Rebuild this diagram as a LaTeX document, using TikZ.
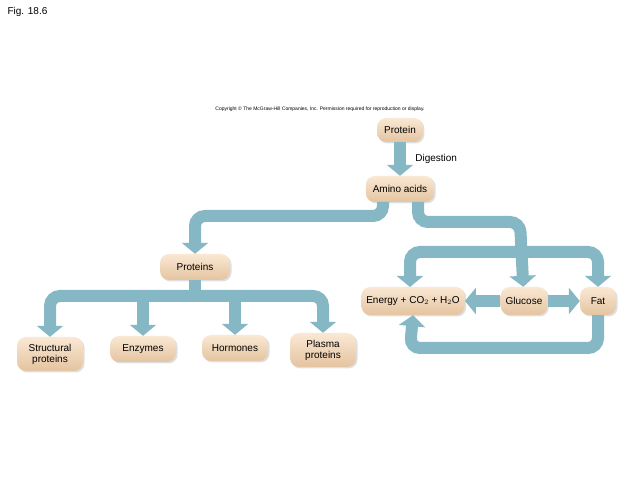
\documentclass[tikz,border=0pt]{standalone}
\usepackage{fontspec}
\setmainfont{Liberation Sans}
\usetikzlibrary{arrows.meta, shadows}
\definecolor{flow}{RGB}{133,183,196}
\definecolor{tanlight}{RGB}{250,232,212}
\definecolor{tandark}{RGB}{228,196,160}
\begin{document}
\begin{tikzpicture}[x=1pt, y=-1pt,
  box/.style = {rounded corners=9pt, top color=tanlight, bottom color=tandark,
    drop shadow={shadow xshift=1.5pt, shadow yshift=-1.5pt, fill=black!25},
    minimum height=26pt, inner xsep=7pt, align=center, font=\fontsize{10}{11}\selectfont},
  flowline/.style = {draw=flow, line width=12pt, rounded corners=10pt},
  arrow/.style = {flowline, -{Triangle[length=11pt, width=26pt]}}
]
  \useasboundingbox (0,0) rectangle (638,478);
  \node[anchor=west, font=\fontsize{10}{11}\selectfont] (fig) at (4,12) {Fig. 18.6};
  \node[font=\fontsize{5}{6}\selectfont] (copy) at (320,109) {Copyright \textcopyright\ The McGraw-Hill Companies, Inc. Permission required for reproduction or display.};

  % Nodes
  \node[box, minimum height=24pt] (protein) at (400,130) {Protein};
  \node[box] (amino) at (400,189) {Amino acids};
  \node[box, minimum width=70pt] (proteins) at (195,267) {Proteins};
  \node[box, minimum width=66pt, minimum height=34pt] (struct) at (50,354) {Structural\\proteins};
  \node[box, minimum width=66pt] (enzymes) at (143,349) {Enzymes};
  \node[box, minimum width=66pt] (hormones) at (235,348) {Hormones};
  \node[box, minimum width=66pt, minimum height=34pt] (plasma) at (323,350) {Plasma\\proteins};
  \node[box, minimum height=28pt, inner xsep=5pt] (energy) at (413,301) {Energy + CO$_2$ + H$_2$O};
  \node[box, minimum height=28pt, inner xsep=5pt] (glucose) at (524,301) {Glucose};
  \node[box, minimum height=28pt, minimum width=36pt, inner xsep=4pt] (fat) at (598,301) {Fat};

  % Connectors
  \draw[arrow] (protein) -- (amino) node[midway, right=6pt, black, font=\fontsize{10}{11}\selectfont] {Digestion};
  \draw[arrow] (383,202) |- (195,216) -- (proteins);
  \draw[arrow] (418,202) |- (520,222) -- (glucose);
  \draw[arrow] (520,252) -| (410,287);
  \draw[arrow] (520,252) -| (fat);
  \draw[arrow] (glucose) -- (energy);
  \draw[arrow] (glucose) -- (fat);
  \draw[arrow] (fat.south) |- (410,348) -- (energy.south);
  \draw[flowline] (proteins) -- (195,296);
  \draw[arrow] (195,296) -| (struct.north);
  \draw[arrow] (195,296) -| (plasma.north);
  \draw[arrow] (enzymes.north |- 296,296) -- (enzymes);
  \draw[arrow] (hormones.north |- 296,296) -- (hormones);
\end{tikzpicture}
\end{document}
